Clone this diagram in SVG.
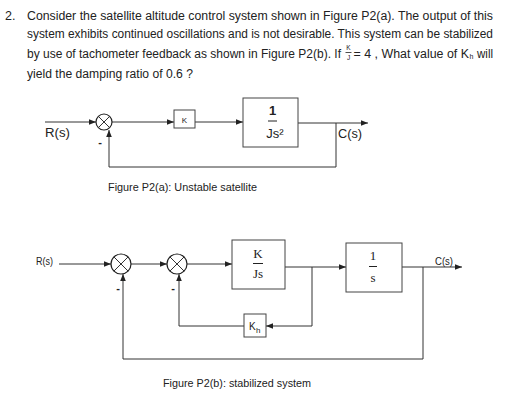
<svg xmlns="http://www.w3.org/2000/svg" width="516" height="405" viewBox="0 0 516 405">
<style>
.t{font-family:"Liberation Sans",Arial,sans-serif;fill:#222}
.s{font-family:"Liberation Serif","Times New Roman",serif;fill:#222}
.ln{fill:none;stroke:#333;stroke-width:1}
.bx{fill:#fff;stroke:#444;stroke-width:1}
.sm{fill:#fff;stroke:#222;stroke-width:1.2}
</style>
<defs>
<marker id="ah" viewBox="0 0 10 10" refX="10" refY="5" markerWidth="7" markerHeight="7" orient="auto" markerUnits="userSpaceOnUse"><path d="M0,1 L10,5 L0,9 z" fill="#222"/></marker>
</defs>
<rect width="516" height="405" fill="#fff"/>

<g id="question" class="t" font-size="12.5">
<text x="5" y="20">2.</text>
<text x="27" y="20" textLength="466" lengthAdjust="spacingAndGlyphs">Consider the satellite altitude control system shown in Figure P2(a).  The output of this</text>
<text x="27" y="38" textLength="466" lengthAdjust="spacingAndGlyphs">system exhibits continued oscillations and is not desirable.  This system can be stabilized</text>
<text x="27" y="58" textLength="314" lengthAdjust="spacingAndGlyphs">by use of tachometer feedback as shown in Figure P2(b).  If</text>
<text x="348.5" y="49.5" font-size="6.5" text-anchor="middle">K</text>
<line x1="345.5" y1="52.5" x2="351.5" y2="52.5" stroke="#222" stroke-width="0.8"/>
<text x="348.5" y="59.5" font-size="6.5" text-anchor="middle">J</text>
<text x="353.5" y="58" textLength="115.5" lengthAdjust="spacingAndGlyphs">= 4 , What value of K</text>
<text x="469.5" y="59" font-size="7">h</text>
<text x="477" y="58" textLength="16" lengthAdjust="spacingAndGlyphs">will</text>
<text x="27" y="78" textLength="166" lengthAdjust="spacingAndGlyphs">yield the damping ratio of 0.6 ?</text>
</g>

<g id="connectors">
<path class="ln" d="M45,122 H96" marker-end="url(#ah)"/>
<path class="ln" d="M112,122 H174" marker-end="url(#ah)"/>
<path class="ln" d="M195,122 H243" marker-end="url(#ah)"/>
<path class="ln" d="M298,123 H368" marker-end="url(#ah)"/>
<path class="ln" d="M336,123 V167 H109 V130" marker-end="url(#ah)"/>

<path class="ln" d="M59,264 H111" marker-end="url(#ah)"/>
<path class="ln" d="M131,264 H167" marker-end="url(#ah)"/>
<path class="ln" d="M187,264 H232" marker-end="url(#ah)"/>
<path class="ln" d="M285,267 H346" marker-end="url(#ah)"/>
<path class="ln" d="M402,267 H462" marker-end="url(#ah)"/>
<path class="ln" d="M312,267 V326 H266" marker-end="url(#ah)"/>
<path class="ln" d="M244,326 H179 V274" marker-end="url(#ah)"/>
<path class="ln" d="M423,267 V359 H123 V274" marker-end="url(#ah)"/>
</g>

<g id="a-labels" class="t">
<text x="45" y="137" font-size="12" textLength="25" lengthAdjust="spacingAndGlyphs">R(s)</text>
<text x="338" y="138" font-size="12" textLength="24" lengthAdjust="spacingAndGlyphs">C(s)</text>
<text x="100" y="146" font-size="11" text-anchor="middle" font-weight="bold">-</text>
<text x="108" y="191" font-size="11" textLength="149" lengthAdjust="spacingAndGlyphs">Figure P2(a): Unstable satellite</text>
</g>

<g id="sum-a">
<circle class="sm" cx="104" cy="122" r="8"/>
<path class="ln" d="M98.3,116.3 L109.7,127.7 M109.7,116.3 L98.3,127.7"/>
</g>

<g id="block-K">
<rect class="bx" x="174" y="110" width="21" height="18"/>
<text class="t" x="184.5" y="122.5" font-size="8" text-anchor="middle">K</text>
</g>

<g id="block-plant-a">
<rect class="bx" x="243" y="98" width="55" height="49"/>
<text class="t" x="272.5" y="115" font-size="13" font-weight="bold" text-anchor="middle">1</text>
<line x1="268" y1="121" x2="277" y2="121" stroke="#222" stroke-width="1"/>
<text class="t" x="275" y="138" font-size="13" text-anchor="middle">Js²</text>
</g>

<g id="b-labels" class="t">
<text x="36" y="265" font-size="10.5" textLength="17" lengthAdjust="spacingAndGlyphs">R(s)</text>
<text x="435" y="265" font-size="10.5" textLength="18" lengthAdjust="spacingAndGlyphs">C(s)</text>
<text x="118" y="292" font-size="11" text-anchor="middle" font-weight="bold">-</text>
<text x="173" y="292" font-size="11" text-anchor="middle" font-weight="bold">-</text>
<text x="163" y="387" font-size="11" textLength="148" lengthAdjust="spacingAndGlyphs">Figure P2(b): stabilized system</text>
</g>

<g id="sum-b1">
<circle class="sm" cx="121" cy="264" r="10"/>
<path class="ln" d="M113.9,256.9 L128.1,271.1 M128.1,256.9 L113.9,271.1"/>
</g>

<g id="sum-b2">
<circle class="sm" cx="177" cy="264" r="10"/>
<path class="ln" d="M169.9,256.9 L184.1,271.1 M184.1,256.9 L169.9,271.1"/>
</g>

<g id="block-KJs">
<rect class="bx" x="232" y="240" width="53" height="49"/>
<text class="s" x="258" y="258" font-size="13" text-anchor="middle">K</text>
<line x1="253" y1="263.5" x2="263" y2="263.5" stroke="#222" stroke-width="1"/>
<text class="s" x="258" y="278" font-size="13" text-anchor="middle">Js</text>
</g>

<g id="block-integrator">
<rect class="bx" x="346" y="243" width="56" height="49"/>
<text class="s" x="373" y="260" font-size="13" text-anchor="middle">1</text>
<line x1="369" y1="266.5" x2="377" y2="266.5" stroke="#222" stroke-width="1"/>
<text class="s" x="373" y="282" font-size="13" text-anchor="middle">s</text>
</g>

<g id="block-Kh">
<rect class="bx" x="244" y="314" width="22" height="23"/>
<text class="t" x="249" y="330" font-size="10">K</text>
<text class="t" x="256" y="333" font-size="8">h</text>
</g>
</svg>
